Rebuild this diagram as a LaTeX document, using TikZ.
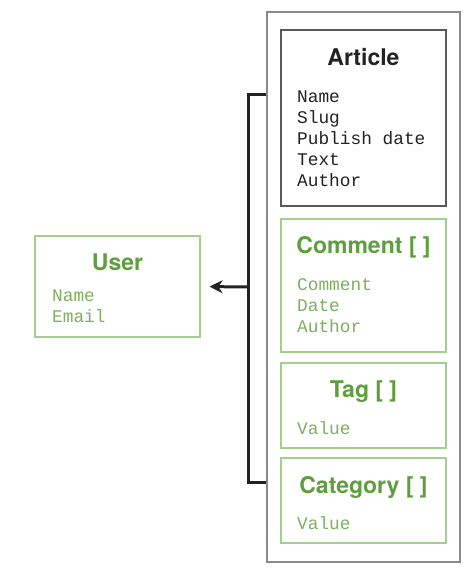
\documentclass[tikz,border=0pt]{standalone}
\usepackage{fontspec}
\setmainfont{TeX Gyre Heros}
\newfontfamily\codefont{Liberation Mono}
\usetikzlibrary{positioning,arrows.meta}
\definecolor{ink}{HTML}{222222}
\definecolor{frame}{HTML}{8A8A8A}
\definecolor{green1}{HTML}{5E9E3C}
\definecolor{green2}{HTML}{7DAF5E}
\definecolor{green3}{HTML}{A4CD8F}

\tikzset{
  box/.style={draw=green3, line width=1.2pt, minimum width=165pt, inner sep=0pt},
  title/.style={font=\bfseries\fontsize{23}{27}\selectfont, text=green1, inner sep=0pt, anchor=base},
  fields/.style={font=\codefont\fontsize{17.8}{21}\selectfont, text=green2, align=left, anchor=north west, inner sep=0pt},
  link/.style={draw=ink, line width=3pt},
}

\begin{document}
\begin{tikzpicture}[x=1pt,y=-1pt]
\useasboundingbox (0,0) rectangle (474,576);
% outer frame of the article document
\node[draw=frame, line width=1.2pt, minimum width=193pt, minimum height=550pt] (doc) at (363.5,287) {};
\node[box, draw=ink!75, minimum height=176pt] (article) at (363.5,118) {};
\node[box, minimum height=133pt] (comment) at (363.5,285.5) {};
\node[box, minimum height=85pt] (tag) at (363.5,405.5) {};
\node[box, minimum height=85pt] (category) at (363.5,500.5) {};
\node[box, minimum height=101pt] (user) at (117.5,286.5) {};

% texts
\node[title, text=ink] (articletitle) at (363.5,65) {Article};
\node[fields, text=ink] (articlefields) at (297,91) {Name\\Slug\\Publish date\\Text\\Author};
\node[title] (commenttitle) at (363.5,253) {Comment [ ]};
\node[fields] (commentfields) at (297,278) {Comment\\Date\\Author};
\node[title] (tagtitle) at (363.5,397) {Tag [ ]};
\node[fields] (tagfields) at (297,421) {Value};
\node[title] (categorytitle) at (363.5,493) {Category [ ]};
\node[fields] (categoryfields) at (297,516) {Value};
\node[title] (usertitle) at (117.5,270) {User};
\node[fields] (userfields) at (52,290) {Name\\Email};

% reference from the article to the user
\coordinate (tj) at (doc.west |- 0,94);
\coordinate (bj) at (doc.west |- 0,482);
\coordinate (jn) at (248,287);
\draw[link] (tj) -| (jn |- bj) -- (bj);
\draw[link, -{Stealth[length=13pt,width=13pt]}, shorten >=9pt] (jn) -- (user.east);
\end{tikzpicture}
\end{document}
